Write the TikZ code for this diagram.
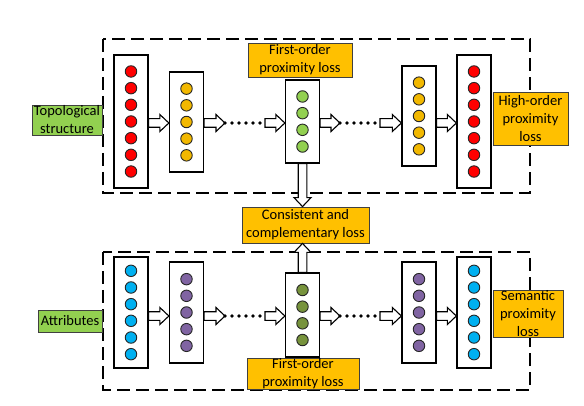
\documentclass[tikz,border=0pt]{standalone}
\usepackage{fontspec}
\setmainfont{Carlito}
\usetikzlibrary{calc}
\definecolor{lossorange}{HTML}{FFC000}
\definecolor{inputgreen}{HTML}{92D050}
\definecolor{unitred}{HTML}{FF0000}
\definecolor{unitorange}{HTML}{F2B800}
\definecolor{unitgreen}{HTML}{92D050}
\definecolor{unitolive}{HTML}{77933C}
\definecolor{unitblue}{HTML}{00B0F0}
\definecolor{unitpurple}{HTML}{8064A2}
\tikzset{
	col_box/.style = {
		draw=black,
		line width=1.3pt,
		fill=white,
		minimum width=34pt,
		inner sep=0pt
	},
	unit/.style = {
		circle,
		draw=black!85,
		line width=0.9pt,
		minimum size=11.5pt,
		inner sep=0pt
	},
	unit_red/.style = {unit, fill=unitred},
	unit_orange/.style = {unit, fill=unitorange},
	unit_green/.style = {unit, fill=unitgreen},
	unit_olive/.style = {unit, fill=unitolive},
	unit_blue/.style = {unit, fill=unitblue},
	unit_purple/.style = {unit, fill=unitpurple},
	label_box/.style = {
		draw=black!75,
		line width=0.8pt,
		align=center,
		inner sep=0pt,
		font=\fontsize{14.5}{18}\selectfont
	},
	loss_box/.style = {label_box, fill=lossorange},
	input_box/.style = {label_box, fill=inputgreen},
	hollow/.style = {
		draw=black,
		fill=white,
		line width=1.1pt,
		line join=miter
	},
	dots/.style = {
		line width=3.6pt,
		line cap=round,
		dash pattern=on 0pt off 7pt
	},
	frame/.style = {
		line width=1.5pt,
		dash pattern=on 13pt off 6pt
	}
}
% one layer: name, x, y, height, units, unit style
\newcommand{\layer}[6]{
	\node [col_box, minimum height=#4] (#1) at (#2,#3) {};
	\foreach \k in {1,...,#5} {
		\node [#6] (#1_\k) at ($(#1.center)+(0,{(\k-(#5+1)/2)*16.67})$) {};
	}
}
% block arrow from #1 to #2
\newcommand{\hollowarrow}[2]{
	\draw [hollow] let \p1 = (#1), \p2 = (#2),
		\n1 = {atan2(\y2-\y1, \x2-\x1)}, \n2 = {veclen(\x2-\x1, \y2-\y1)} in
		[shift={(\p1)}, rotate=\n1]
		(0,-4.3) -- (\n2-9,-4.3) -- (\n2-9,-8.5) -- (\n2,0)
		-- (\n2-9,8.5) -- (\n2-9,4.3) -- (0,4.3) -- cycle;
}

\begin{document}
\begin{tikzpicture}[x=1pt, y=-1pt]
\useasboundingbox (0,0) rectangle (584,406);

% dashed frames
\draw [frame] (103,39) rectangle (530,193);
\draw [frame] (103,252) rectangle (530,390);

% topological branch
\layer{t1}{131}{121.5}{133}{7}{unit_red}
\layer{t2}{186.5}{122}{100}{5}{unit_orange}
\layer{t3}{302.5}{121.5}{83}{4}{unit_green}
\layer{t4}{419}{116}{100}{5}{unit_orange}
\layer{t5}{474}{121.5}{133}{7}{unit_red}

% attribute branch
\layer{b1}{131}{312.5}{111}{6}{unit_blue}
\layer{b2}{186.5}{312.5}{101}{5}{unit_purple}
\layer{b3}{302.5}{315}{84}{4}{unit_olive}
\layer{b4}{419}{312.5}{101}{5}{unit_purple}
\layer{b5}{474}{312.5}{111}{6}{unit_blue}

% labels
\node [input_box, minimum width=70pt, minimum height=30pt] (topo) at (67,120) {Topological\\structure};
\node [input_box, minimum width=64pt, minimum height=22pt] (attr) at (70,321) {Attributes};
\node [loss_box, minimum width=104pt, minimum height=34pt] (first_top) at (300,60) {First-order\\proximity loss};
\node [loss_box, minimum width=75pt, minimum height=53pt] (high) at (530.5,118.5) {High-order\\proximity\\loss};
\node [loss_box, minimum width=127pt, minimum height=36pt] (cons) at (305.5,225) {Consistent and\\complementary loss};
\node [loss_box, minimum width=112pt, minimum height=31pt] (first_bot) at (303,373.5) {First-order\\proximity loss};
\node [loss_box, minimum width=70pt, minimum height=47pt] (sem) at (528,313.5) {Semantic\\proximity\\loss};

% top connectors
\coordinate (td1) at (225,123);
\coordinate (td2) at (265,123);
\coordinate (td3) at (340,123);
\coordinate (td4) at (380,123);
\hollowarrow{t1.east |- td1}{t2.west |- td1}
\hollowarrow{t2.east |- td1}{td1}
\draw [dots] (td1) -- (td2);
\hollowarrow{td2}{t3.west |- td2}
\hollowarrow{t3.east |- td3}{td3}
\draw [dots] (td3) -- (td4);
\hollowarrow{td4}{t4.west |- td4}
\hollowarrow{t4.east |- td4}{t5.west |- td4}

% bottom connectors
\coordinate (bd1) at (225,316);
\coordinate (bd2) at (265,316);
\coordinate (bd3) at (340,316);
\coordinate (bd4) at (380,316);
\hollowarrow{b1.east |- bd1}{b2.west |- bd1}
\hollowarrow{b2.east |- bd1}{bd1}
\draw [dots] (bd1) -- (bd2);
\hollowarrow{bd2}{b3.west |- bd2}
\hollowarrow{b3.east |- bd3}{bd3}
\draw [dots] (bd3) -- (bd4);
\hollowarrow{bd4}{b4.west |- bd4}
\hollowarrow{b4.east |- bd4}{b5.west |- bd4}

% into the joint loss
\hollowarrow{t3.south}{t3.south |- cons.north}
\hollowarrow{b3.north}{b3.north |- cons.south}
\end{tikzpicture}
\end{document}
